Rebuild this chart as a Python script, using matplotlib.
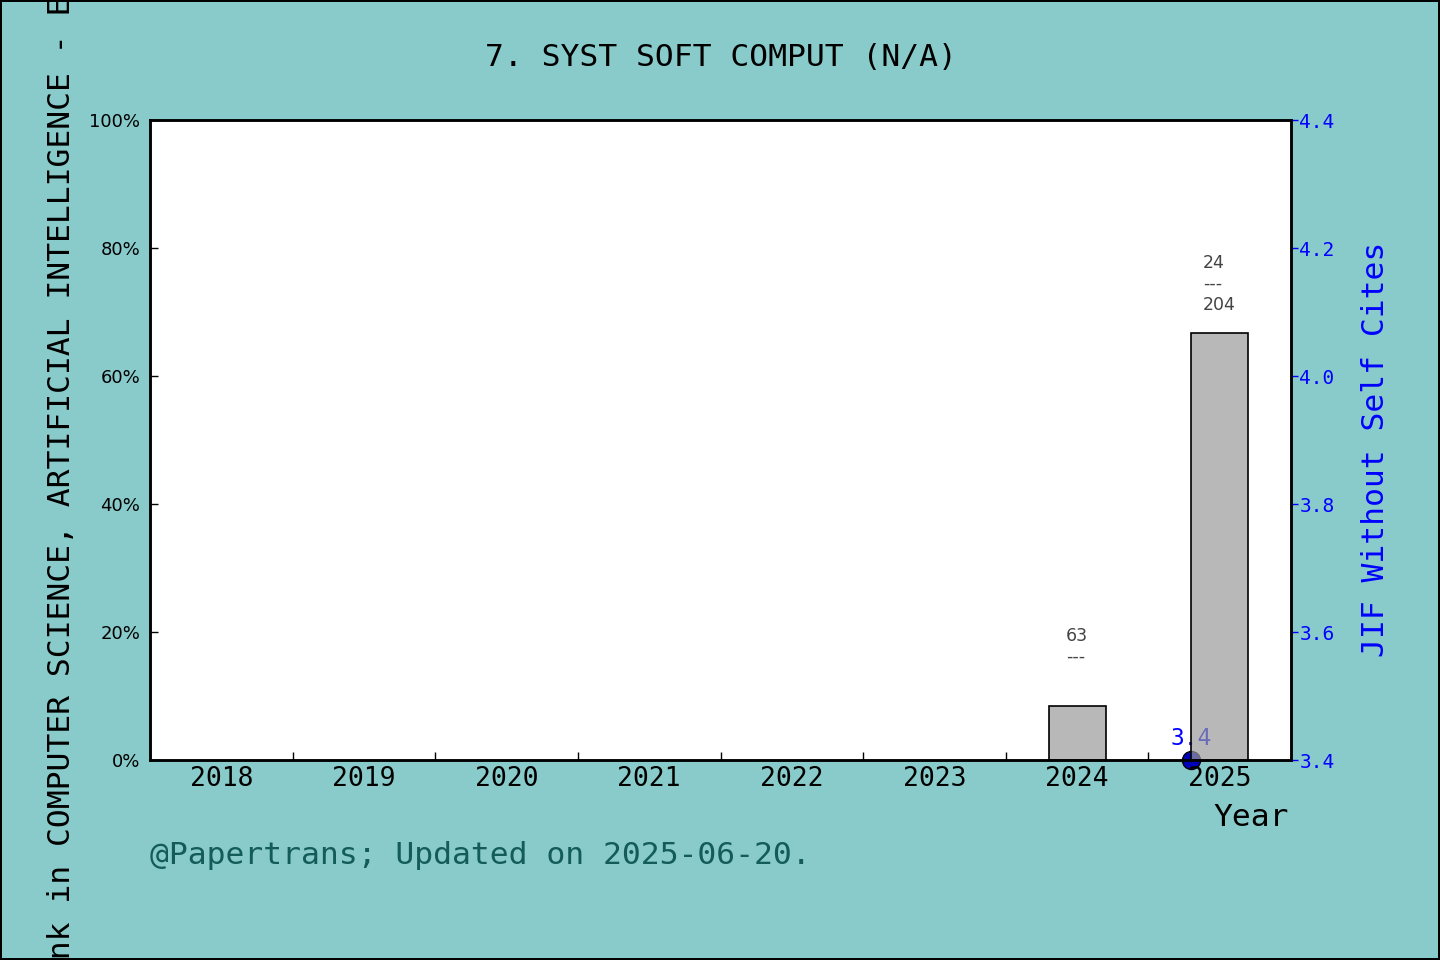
import numpy as np
import matplotlib
matplotlib.use('Agg')
import matplotlib.pyplot as plt
from matplotlib.ticker import FixedLocator, FuncFormatter

years = ['2018', '2019', '2020', '2021', '2022', '2023', '2024', '2025']
rank_pct = [np.nan, np.nan, np.nan, np.nan, np.nan, np.nan, 8.4, 66.7]
rank_txt = ['', '', '', '', '', '', '63\n---\n', '24\n---\n204']
jif = [np.nan, np.nan, np.nan, np.nan, np.nan, np.nan, np.nan, 3.4]

title = '7. SYST SOFT COMPUT (N/A)'
left_label = 'Rank in COMPUTER SCIENCE, ARTIFICIAL INTELLIGENCE - ESCI (JIF)'
right_label = 'JIF Without Self Cites'
footer = '@Papertrans; Updated on 2025-06-20.'

BG = '#88CBCA'
MONO = 'DejaVu Sans Mono'
BIG = 22.6
BAR_FACE = (0.604, 0.608, 0.612, 0.7)   # translucent gray, so the JIF dot shows through

fig = plt.figure(figsize=(14.4, 9.6), dpi=100, facecolor=BG,
                 edgecolor='black', linewidth=1.5)
ax = fig.add_axes([150/1440, 1-760/960, (1291-150)/1440, (760-120)/960])
ax2 = ax.twinx()

# bars sit above the JIF axis, like the original
ax.set_zorder(2)
ax2.set_zorder(1)
ax.patch.set_visible(False)
ax2.patch.set_visible(True)
ax2.patch.set_facecolor('white')

x = np.arange(len(years))
for i, h in enumerate(rank_pct):
    if np.isnan(h):
        continue
    ax.bar(x[i], h, width=0.4, facecolor=BAR_FACE,
           edgecolor='black', linewidth=1.2)
    ax.annotate(rank_txt[i], (x[i], h), xytext=(0, 14), textcoords='offset points',
                ha='center', va='bottom', multialignment='left',
                fontsize=12.5, color='#444444', linespacing=1.2)

jx = x - 0.2
ax2.plot(jx, jif, 'o', color='#0000BB', markeredgecolor='black',
         markersize=13, clip_on=False)
for i, v in enumerate(jif):
    if np.isnan(v):
        continue
    ax2.annotate('%.1f' % v, (jx[i], v), xytext=(0, 7), textcoords='offset points',
                 ha='center', va='bottom', fontsize=16.5, family=MONO, color='blue')

ax.set_xlim(-0.5, 7.5)
ax.set_ylim(0, 100)
ax2.set_ylim(3.4, 4.4)

ax.set_xticks(x)
ax.set_xticklabels(years, family=MONO, fontsize=19)
ax.xaxis.set_minor_locator(FixedLocator(x[:-1] + 0.5))
ax.tick_params(axis='x', which='major', length=0, pad=4)
ax.tick_params(axis='x', which='minor', direction='in', length=6, width=1)

ax.set_yticks([0, 20, 40, 60, 80, 100])
ax.yaxis.set_major_formatter(FuncFormatter(lambda v, p: '%d%%' % v))
ax.tick_params(axis='y', direction='in', length=6, width=1, labelsize=13, pad=7)

ax2.set_yticks([3.4, 3.6, 3.8, 4.0, 4.2, 4.4])
ax2.yaxis.set_major_formatter(FuncFormatter(lambda v, p: '%.1f' % v))
ax2.tick_params(axis='y', direction='out', length=5, width=1, colors='blue',
                labelsize=14, pad=1)
for lab in ax2.get_yticklabels():
    lab.set_family(MONO)

for a in (ax, ax2):
    for s in a.spines.values():
        s.set_linewidth(1.8)
        s.set_color('black')

fig.text(721/1440, 1-57/960, title, ha='center', va='center',
         family=MONO, fontsize=BIG, color='black')
fig.text(62/1440, (960-997)/960, left_label, rotation=90, ha='center', va='bottom',
         family=MONO, fontsize=BIG, color='black')
fig.text(1375/1440, 1-449/960, right_label, rotation=90, ha='center', va='center',
         family=MONO, fontsize=BIG, color='blue')
fig.text(1289/1440, 1-817/960, 'Year', ha='right', va='center',
         family=MONO, fontsize=BIG, color='black')
fig.text(150/1440, 1-855/960, footer, ha='left', va='center',
         family=MONO, fontsize=BIG, color='#135C57')

fig.savefig('out.png', dpi=100)
